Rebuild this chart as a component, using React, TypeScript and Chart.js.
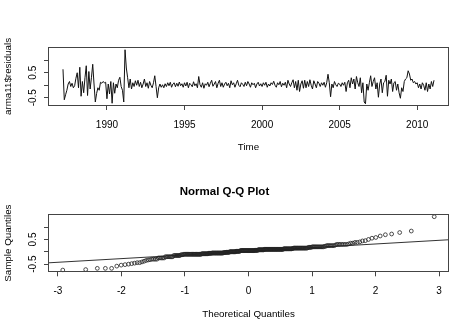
import React, { useEffect, useRef } from "react";
import { Chart, registerables } from "chart.js";
Chart.register(...registerables);

// Monthly residuals, series starts March 1987
const tsStart = 1987 + 2 / 12;
const res1987 = [0.64, -0.58, -0.38, -0.2, 0.05, 0.15, -0.05, 0.08, -0.1, -0.02];
const res1988 = [0.28, 0.5, -0.1, 0.72, -0.44, 0.15, -0.3, 0.3, 0.78, -0.41, 0.55, -0.15];
const res1989 = [0.3, 0.84, 0.05, -0.67, -0.33, -0.1, -0.2, 0.12, 0.08, 0.15, 0.1, 0.12];
const res1990 = [-0.54, 0.05, -0.35, 0.15, -0.72, 0.1, -0.32, 0.05, -0.1, 0.2, 0.32, -0.05];
const res1991 = [-0.2, -0.67, 1.42, 0.69, 0.3, -0.1, 0.25, -0.15, 0.1, -0.05, 0.18, 0.0];
const res1992 = [0.2, -0.05, 0.12, -0.1, 0.05, 0.25, -0.05, 0.1, -0.12, 0.15, 0.0, -0.1];
const res1993 = [0.1, 0.38, -0.05, -0.5, -0.1, 0.05, -0.08, 0.02, -0.1, 0.06, -0.05, 0.1];
const res1994 = [-0.02, 0.12, -0.08, 0.05, 0.1, -0.06, 0.08, -0.04, 0.13, -0.02, 0.06, -0.08];
const res1995 = [0.1, -0.03, 0.12, -0.1, 0.08, 0.02, -0.06, 0.14, -0.02, 0.06, -0.1, 0.35];
const res1996 = [0.02, -0.08, 0.1, -0.12, 0.06, 0.0, 0.12, -0.06, 0.08, 0.2, -0.04, 0.05];
const res1997 = [0.15, -0.1, 0.08, 0.2, -0.05, 0.1, -0.08, 0.05, 0.12, -0.02, 0.08, -0.1];
const res1998 = [0.18, 0.02, 0.1, -0.08, 0.06, 0.2, 0.0, -0.06, 0.1, 0.04, -0.05, 0.12];
const res1999 = [-0.02, 0.15, 0.05, -0.08, 0.1, 0.02, 0.08, -0.1, 0.05, 0.12, -0.03, 0.06];
const res2000 = [-0.05, 0.1, 0.0, 0.12, -0.08, 0.05, -0.03, 0.1, 0.03, 0.16, 0.0, -0.08];
const res2001 = [0.1, 0.02, 0.15, -0.06, 0.08, 0.0, 0.12, -0.1, 0.2, 0.05, -0.05, 0.1];
const res2002 = [0.22, -0.1, 0.15, -0.2, 0.2, -0.25, 0.05, 0.18, -0.12, 0.2, -0.1, 0.15];
const res2003 = [-0.05, 0.22, 0.0, -0.15, 0.18, 0.05, -0.1, 0.15, 0.08, -0.05, 0.1, 0.0];
const res2004 = [0.12, -0.08, 0.1, 0.44, 0.1, -0.46, 0.05, -0.1, 0.15, 0.02, -0.05, 0.08];
const res2005 = [0.05, -0.05, 0.1, 0.0, 0.12, -0.25, 0.1, 0.2, -0.1, 0.3, 0.05, 0.25];
const res2006 = [-0.15, 0.35, 0.1, -0.05, 0.3, -0.3, 0.1, -0.67, -0.74, 0.05, -0.2, 0.1];
const res2007 = [0.38, -0.05, 0.15, 0.3, -0.15, 0.1, -0.48, 0.05, 0.25, -0.3, 0.1, 0.15];
const res2008 = [0.4, -0.44, 0.2, 0.05, 0.25, -0.25, 0.1, 0.15, -0.2, 0.05, -0.3, -0.52];
const res2009 = [-0.1, -0.25, 0.15, 0.25, 0.3, 0.58, 0.45, 0.2, 0.25, 0.1, 0.15, 0.05];
const res2010 = [0.1, -0.1, 0.05, -0.15, 0.1, 0.0, -0.2, 0.1, -0.25, 0.05, -0.15, 0.15];
const res2011 = [-0.05, 0.2];

const residuals = [
  ...res1987, ...res1988, ...res1989, ...res1990, ...res1991, ...res1992, ...res1993,
  ...res1994, ...res1995, ...res1996, ...res1997, ...res1998, ...res1999, ...res2000,
  ...res2001, ...res2002, ...res2003, ...res2004, ...res2005, ...res2006, ...res2007,
  ...res2008, ...res2009, ...res2010, ...res2011,
];

// Axis ticks / limits
const timeTicks = [1990, 1995, 2000, 2005, 2010];
const timeRange = [1986.2, 2012.05];
const residTicks = [-0.5, 0, 0.5, 1];
const residTickLabels = ["-0.5", "", "0.5", ""];
const residRange = [-0.83, 1.53];
const qqTicks = [-3, -2, -1, 0, 1, 2, 3];
const qqRange = [-3.155, 3.155];

const FONT = "'Liberation Sans', Arial, sans-serif";
const TXT = "#000";
const AXC = "#444";

function qnorm(p: number): number {
  const a = [-3.969683028665376e1, 2.209460984245205e2, -2.759285104469687e2, 1.38357751867269e2, -3.066479806614716e1, 2.506628277459239];
  const b = [-5.447609879822406e1, 1.615858368580409e2, -1.556989798598866e2, 6.680131188771972e1, -1.328068155288572e1];
  const c = [-7.784894002430293e-3, -3.223964580411365e-1, -2.400758277161838, -2.549732539343734, 4.374664141464968, 2.938163982698783];
  const d = [7.784695709041462e-3, 3.224671290700398e-1, 2.445134137142996, 3.754408661907416];
  const pl = 0.02425;
  if (p < pl) {
    const q = Math.sqrt(-2 * Math.log(p));
    return (((((c[0] * q + c[1]) * q + c[2]) * q + c[3]) * q + c[4]) * q + c[5]) / ((((d[0] * q + d[1]) * q + d[2]) * q + d[3]) * q + 1);
  }
  if (p <= 1 - pl) {
    const q = p - 0.5, r = q * q;
    return ((((((a[0] * r + a[1]) * r + a[2]) * r + a[3]) * r + a[4]) * r + a[5]) * q) / (((((b[0] * r + b[1]) * r + b[2]) * r + b[3]) * r + b[4]) * r + 1);
  }
  const q = Math.sqrt(-2 * Math.log(1 - p));
  return -(((((c[0] * q + c[1]) * q + c[2]) * q + c[3]) * q + c[4]) * q + c[5]) / ((((d[0] * q + d[1]) * q + d[2]) * q + d[3]) * q + 1);
}

function quantile7(sorted: number[], p: number): number {
  const h = (sorted.length - 1) * p;
  const lo = Math.floor(h);
  const hi = Math.min(lo + 1, sorted.length - 1);
  return sorted[lo] + (h - lo) * (sorted[hi] - sorted[lo]);
}

const boxPlugin = {
  id: "rbox",
  afterDraw(chart: any) {
    const { ctx, chartArea: a } = chart;
    ctx.save();
    ctx.strokeStyle = AXC;
    ctx.lineWidth = 1;
    const l = Math.round(a.left) + 0.5, t = Math.round(a.top) + 0.5;
    const r = Math.round(a.right) - 0.5, b = Math.round(a.bottom) - 0.5;
    ctx.strokeRect(l, t, r - l, b - t);
    ctx.restore();
  },
};

function xAxis(range: number[], ticks: number[], title: string, height: number) {
  return {
    type: "linear",
    position: "bottom",
    min: range[0],
    max: range[1],
    afterBuildTicks: (s: any) => { s.ticks = ticks.map((v) => ({ value: v })); },
    afterFit: (s: any) => { s.height = height; },
    grid: { display: true, drawOnChartArea: false, drawTicks: true, tickLength: 4, color: AXC, lineWidth: 1 },
    border: { display: false },
    ticks: {
      autoSkip: false, minRotation: 0, maxRotation: 0, padding: 9, color: TXT,
      font: { family: FONT, size: 10 },
      callback: (v: any) => String(v),
    },
    title: { display: true, text: title, color: TXT, font: { family: FONT, size: 9.8 }, padding: { top: 0, bottom: 12.5 } },
  };
}

function yAxis(title: string) {
  return {
    type: "linear",
    position: "left",
    min: residRange[0],
    max: residRange[1],
    afterBuildTicks: (s: any) => { s.ticks = residTicks.map((v) => ({ value: v })); },
    afterFit: (s: any) => { s.width = 48; },
    grid: { display: true, drawOnChartArea: false, drawTicks: true, tickLength: 4, color: AXC, lineWidth: 1 },
    border: { display: false },
    ticks: {
      autoSkip: false, minRotation: 90, maxRotation: 90, crossAlign: "center", padding: 2.5, color: TXT,
      font: { family: FONT, size: 10 },
      callback: (_v: any, i: number) => residTickLabels[i],
    },
    title: { display: true, text: title, color: TXT, font: { family: FONT, size: 9.8 }, padding: { top: 2, bottom: 0 } },
  };
}

export default function App() {
  const topRef = useRef<HTMLCanvasElement>(null);
  const botRef = useRef<HTMLCanvasElement>(null);

  useEffect(() => {
    const tsData = residuals.map((y, i) => ({ x: tsStart + i / 12, y }));
    const n = residuals.length;
    const sorted = [...residuals].sort((a, b) => a - b);
    const theo = sorted.map((_, i) => qnorm((i + 1 - 0.5) / n));
    const qqData = sorted.map((y, i) => ({ x: theo[i], y }));
    const q1 = quantile7(sorted, 0.25), q3 = quantile7(sorted, 0.75);
    const slope = (q3 - q1) / (qnorm(0.75) - qnorm(0.25));
    const intercept = q1 - slope * qnorm(0.25);
    const lineData = qqRange.map((x) => ({ x, y: intercept + slope * x }));

    const common = {
      responsive: false,
      animation: false as const,
      events: [] as any[],
      plugins: { legend: { display: false }, tooltip: { enabled: false } },
    };

    const top = new Chart(topRef.current!, {
      type: "line",
      data: {
        datasets: [{
          data: tsData, borderColor: "#111", borderWidth: 1, pointRadius: 0, tension: 0, fill: false,
        }],
      },
      options: {
        ...common,
        layout: { padding: { left: 0, top: 47, right: 25, bottom: 0 } },
        scales: { x: xAxis(timeRange, timeTicks, "Time", 60) as any, y: yAxis("arma11$residuals") as any },
      },
      plugins: [boxPlugin],
    } as any);

    const bot = new Chart(botRef.current!, {
      type: "scatter",
      data: {
        datasets: [
          {
            data: qqData, pointStyle: "circle", pointRadius: 1.9, borderWidth: 0.8,
            borderColor: "#222", backgroundColor: "rgba(0,0,0,0)", showLine: false,
          },
          {
            data: lineData, showLine: true, pointRadius: 0, borderColor: "#333", borderWidth: 1, tension: 0,
          },
        ],
      },
      options: {
        ...common,
        layout: { padding: { left: 0, top: 0, right: 25, bottom: 0 } },
        plugins: {
          ...common.plugins,
          title: {
            display: true, text: "Normal Q-Q Plot", color: TXT,
            font: { family: FONT, size: 11.5, weight: "bold" },
            padding: { top: 18.6, bottom: 15.6 },
          },
        },
        scales: { x: xAxis(qqRange, qqTicks, "Theoretical Quantiles", 60.7) as any, y: yAxis("Sample Quantiles") as any },
      },
      plugins: [boxPlugin],
    } as any);

    return () => { top.destroy(); bot.destroy(); };
  }, []);

  return (
    <div style={{ position: "absolute", left: 0, top: 0, width: 474, height: 333, background: "#fff" }}>
      <canvas ref={topRef} width={474} height={166} style={{ position: "absolute", left: 0, top: 0, display: "block" }} />
      <canvas ref={botRef} width={474} height={167} style={{ position: "absolute", left: 0, top: 166, display: "block" }} />
    </div>
  );
}
